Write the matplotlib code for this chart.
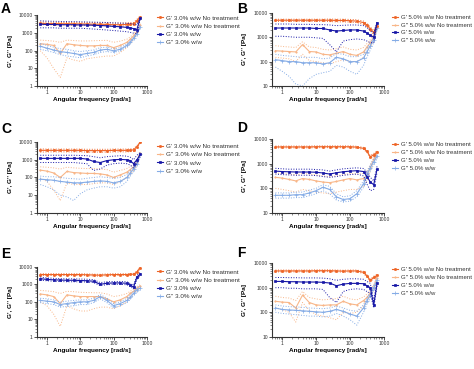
import numpy as np
import matplotlib
matplotlib.use("Agg")
import matplotlib.pyplot as plt
from matplotlib.ticker import LogLocator, FixedLocator, FixedFormatter, NullFormatter

plt.rcParams['font.family'] = ['Liberation Sans', 'DejaVu Sans']

# angular frequency [rad/s]
freq = [0.628, 0.995, 1.58, 2.50, 3.96, 6.28, 9.95, 15.8, 25.0, 39.6,
        62.8, 99.5, 158, 250, 315, 396, 499, 628]

# ---------------- A (3.0 %) ----------------
a_gp_nt = [3600, 3500, 3500, 3400, 3400, 3400, 3300, 3300, 3200, 3200, 3100, 3000, 3000, 3100, 3200, 3400, 5000, 8500]
a_gp_nt_lo = [3000, 3000, 2900, 2900, 2900, 2800, 2800, 2800, 2700, 2700, 2600, 2500, 2500, 2600, 2700, 2900, 4200, 7500]
a_gp_nt_hi = [4300, 4200, 4100, 4000, 4000, 4000, 3900, 3900, 3900, 3800, 3800, 3700, 3700, 3800, 3900, 4000, 6000, 9500]
a_gp_ww = [3200, 3100, 3100, 3000, 3000, 3000, 2900, 2900, 2800, 2700, 2600, 2400, 2300, 2100, 2000, 1800, 1600, 7000]
a_gp_ww_lo = [2000, 2000, 2000, 1900, 1900, 1900, 1900, 1800, 1700, 1600, 1500, 1400, 1300, 1200, 1100, 1000, 900, 6000]
a_gp_ww_hi = [5000, 4800, 4700, 4600, 4500, 4500, 4400, 4300, 4200, 4100, 4000, 3800, 3700, 3600, 3500, 3200, 3000, 8000]
a_gpp_nt = [250, 230, 200, 70, 250, 220, 200, 190, 190, 200, 200, 150, 200, 300, 450, 700, 1200, 3000]
a_gpp_nt_lo = [100, 40, 10, 3, 40, 30, 25, 35, 40, 45, 50, 50, 80, 150, 250, 450, 900, 2500]
a_gpp_nt_hi = [400, 380, 350, 300, 400, 380, 360, 360, 370, 380, 390, 300, 350, 450, 600, 900, 1500, 3500]
a_gpp_ww = [180, 140, 110, 90, 80, 70, 60, 70, 80, 110, 120, 100, 120, 200, 300, 500, 900, 2200]
a_gpp_ww_lo = [120, 100, 80, 60, 50, 45, 40, 50, 60, 80, 90, 80, 100, 170, 250, 420, 800, 1900]
a_gpp_ww_hi = [260, 200, 160, 130, 120, 100, 90, 100, 110, 150, 160, 130, 150, 240, 360, 600, 1050, 2600]

# ---------------- B (5.0 %) ----------------
b_gp_nt = [5000, 5000, 5000, 5000, 5000, 5000, 5000, 5000, 5000, 4900, 4900, 4800, 4600, 4000, 3200, 2200, 1600, 3000]
b_gp_nt_lo = [4500, 4500, 4500, 4500, 4500, 4500, 4500, 4500, 4400, 4300, 4300, 4200, 4000, 3400, 2700, 1800, 1300, 2600]
b_gp_nt_hi = [5500, 5500, 5500, 5500, 5500, 5500, 5500, 5500, 5600, 5500, 5500, 5400, 5200, 4600, 3700, 2600, 1900, 3400]
b_gp_ww = [2400, 2400, 2400, 2400, 2400, 2400, 2300, 2300, 2000, 1800, 1900, 2000, 2000, 1800, 1500, 1200, 1000, 4000]
b_gp_ww_lo = [1100, 1100, 1050, 1000, 1000, 1000, 950, 900, 500, 250, 700, 800, 850, 800, 700, 600, 600, 3500]
b_gp_ww_hi = [3500, 3500, 3500, 3400, 3400, 3400, 3300, 3300, 3200, 3000, 3100, 3200, 3200, 3000, 2500, 1900, 1500, 4500]
b_gpp_nt = [280, 270, 260, 250, 500, 260, 250, 200, 190, 220, 260, 200, 180, 250, 400, 600, 1000, 2800]
b_gpp_nt_lo = [150, 140, 130, 100, 200, 110, 100, 90, 80, 100, 120, 100, 100, 150, 250, 400, 700, 2300]
b_gpp_nt_hi = [450, 420, 400, 380, 650, 400, 380, 320, 300, 340, 400, 320, 300, 380, 550, 800, 1300, 3300]
b_gpp_ww = [120, 110, 100, 100, 90, 90, 90, 80, 90, 150, 130, 100, 100, 140, 250, 450, 800, 2500]
b_gpp_ww_lo = [60, 40, 25, 12, 10, 20, 30, 35, 40, 70, 60, 40, 30, 70, 150, 300, 600, 2000]
b_gpp_ww_hi = [200, 180, 170, 160, 150, 150, 150, 130, 140, 220, 200, 160, 160, 200, 350, 600, 1000, 3000]

# ---------------- C (3.0 %) ----------------
c_gp_nt = [3400, 3400, 3400, 3400, 3400, 3400, 3400, 3300, 3300, 3300, 3300, 3400, 3400, 3400, 3500, 3600, 5500, 9500]
c_gp_nt_lo = [2700, 2800, 2800, 2800, 2800, 2800, 2800, 2700, 2700, 2700, 2700, 2800, 2800, 2800, 2900, 3000, 4700, 8500]
c_gp_nt_hi = [4100, 4000, 4000, 4000, 4000, 4000, 4000, 3900, 3900, 3900, 3900, 4000, 4000, 4000, 4100, 4200, 6300, 10000]
c_gp_ww = [1200, 1200, 1200, 1200, 1200, 1200, 1200, 1100, 800, 700, 900, 1000, 1050, 1000, 900, 600, 1000, 2000]
c_gp_ww_lo = [700, 700, 700, 700, 700, 700, 650, 600, 250, 300, 500, 600, 650, 600, 500, 350, 600, 1500]
c_gp_ww_hi = [1800, 1800, 1800, 1800, 1800, 1800, 1750, 1700, 1500, 1300, 1500, 1600, 1700, 1600, 1400, 1000, 1800, 2600]
c_gpp_nt = [260, 230, 180, 100, 220, 190, 180, 170, 170, 160, 140, 100, 140, 200, 280, 400, 700, 2500]
c_gpp_nt_lo = [90, 60, 20, 5, 50, 40, 40, 40, 45, 50, 50, 40, 60, 100, 150, 250, 500, 2000]
c_gpp_nt_hi = [400, 380, 350, 300, 380, 350, 330, 320, 320, 300, 280, 200, 250, 320, 420, 550, 900, 3000]
c_gpp_ww = [80, 75, 70, 60, 55, 50, 50, 55, 60, 65, 60, 50, 60, 100, 180, 300, 600, 2000]
c_gpp_ww_lo = [40, 30, 20, 10, 8, 5, 12, 20, 25, 30, 30, 25, 30, 60, 120, 220, 450, 1600]
c_gpp_ww_hi = [120, 110, 110, 100, 90, 85, 80, 90, 100, 110, 100, 90, 100, 150, 250, 400, 750, 2400]

# ---------------- D (5.0 %) ----------------
d_gp_nt = [4800, 4800, 4800, 4800, 4800, 4800, 4900, 4900, 4900, 4900, 4900, 4900, 4700, 4200, 3200, 1900, 2300, 3000]
d_gp_nt_lo = [4400, 4400, 4400, 4400, 4400, 4400, 4500, 4500, 4500, 4500, 4500, 4500, 4300, 3800, 2900, 1700, 2000, 2700]
d_gp_nt_hi = [5200, 5200, 5200, 5200, 5200, 5200, 5300, 5300, 5300, 5300, 5300, 5300, 5100, 4600, 3500, 2100, 2600, 3300]
d_gp_ww = [500, 480, 470, 460, 460, 460, 450, 420, 380, 430, 470, 500, 520, 480, 300, 180, 140, 600]
d_gp_ww_lo = [380, 360, 350, 340, 340, 340, 330, 300, 280, 300, 340, 360, 380, 320, 150, 80, 90, 450]
d_gp_ww_hi = [650, 620, 600, 600, 600, 600, 580, 560, 500, 560, 620, 650, 680, 640, 450, 280, 200, 800]
d_gpp_nt = [280, 260, 230, 200, 250, 230, 200, 180, 170, 190, 220, 250, 220, 250, 350, 700, 1500, 3000]
d_gpp_nt_lo = [100, 90, 80, 70, 90, 80, 70, 65, 60, 70, 80, 90, 90, 120, 200, 500, 1200, 2500]
d_gpp_nt_hi = [420, 400, 380, 350, 400, 380, 350, 320, 300, 320, 360, 400, 380, 400, 500, 900, 1800, 3500]
d_gpp_ww = [52, 52, 52, 55, 55, 65, 80, 110, 90, 45, 35, 38, 60, 150, 350, 700, 1200, 2000]
d_gpp_ww_lo = [40, 40, 40, 42, 42, 50, 60, 80, 60, 33, 28, 30, 45, 110, 250, 500, 900, 1600]
d_gpp_ww_hi = [65, 65, 65, 70, 70, 85, 100, 140, 120, 60, 45, 50, 80, 200, 450, 900, 1500, 2500]

# ---------------- E (3.0 %) ----------------
e_gp_nt = [3600, 3600, 3600, 3600, 3600, 3600, 3600, 3500, 3400, 3300, 3500, 3600, 3600, 3600, 3700, 3800, 5000, 9000]
e_gp_nt_lo = [3200, 3200, 3200, 3200, 3200, 3200, 3200, 3100, 3000, 2900, 3100, 3200, 3200, 3200, 3300, 3400, 4400, 8000]
e_gp_nt_hi = [4000, 4000, 4000, 4000, 4000, 4000, 4000, 3900, 3800, 3700, 3900, 4000, 4000, 4000, 4100, 4200, 5600, 10000]
e_gp_ww = [2100, 1900, 1800, 1750, 1700, 1700, 1650, 1600, 1500, 1000, 1150, 1200, 1200, 1150, 900, 700, 2500, 4000]
e_gp_ww_lo = [1700, 1600, 1500, 1450, 1400, 1400, 1400, 1350, 1250, 850, 950, 1000, 1000, 950, 750, 550, 1800, 3300]
e_gp_ww_hi = [2600, 2300, 2200, 2100, 2050, 2050, 2000, 1950, 1850, 1250, 1400, 1450, 1450, 1400, 1100, 900, 3200, 4800]
e_gpp_nt = [280, 250, 200, 80, 250, 220, 200, 200, 200, 200, 150, 100, 130, 200, 300, 400, 600, 800]
e_gpp_nt_lo = [100, 60, 20, 4, 60, 40, 30, 30, 40, 50, 50, 40, 60, 100, 180, 280, 450, 650]
e_gpp_nt_hi = [450, 420, 380, 300, 400, 380, 350, 340, 330, 330, 280, 200, 230, 300, 400, 520, 750, 950]
e_gpp_ww = [120, 110, 100, 70, 80, 90, 100, 100, 120, 200, 120, 60, 80, 120, 180, 300, 500, 600]
e_gpp_ww_lo = [90, 80, 70, 50, 55, 60, 70, 70, 90, 150, 90, 45, 60, 90, 140, 230, 380, 450]
e_gpp_ww_hi = [160, 150, 130, 95, 110, 120, 130, 130, 160, 260, 160, 80, 100, 160, 240, 400, 650, 800]

# ---------------- F (5.0 %) ----------------
f_gp_nt = [4800, 4800, 4800, 4800, 4800, 4800, 4900, 4900, 4900, 4800, 4700, 4800, 4800, 4200, 3000, 2000, 2600, 3200]
f_gp_nt_lo = [4400, 4400, 4400, 4400, 4400, 4400, 4500, 4500, 4500, 4400, 4300, 4400, 4400, 3800, 2700, 1800, 2300, 2900]
f_gp_nt_hi = [5200, 5200, 5200, 5200, 5200, 5200, 5300, 5300, 5300, 5200, 5100, 5200, 5200, 4600, 3300, 2200, 2900, 3500]
f_gp_ww = [1800, 1800, 1750, 1750, 1700, 1700, 1700, 1650, 1550, 1200, 1400, 1500, 1500, 1450, 1200, 1000, 200, 1500]
f_gp_ww_lo = [1000, 1000, 950, 950, 900, 900, 900, 850, 400, 250, 700, 850, 900, 850, 700, 600, 150, 1200]
f_gp_ww_hi = [2600, 2600, 2550, 2550, 2500, 2500, 2500, 2450, 2300, 2000, 2200, 2300, 2300, 2200, 1800, 1500, 300, 1900]
f_gpp_nt = [280, 260, 250, 150, 500, 250, 200, 190, 200, 200, 280, 220, 200, 300, 400, 600, 1000, 2500]
f_gpp_nt_lo = [150, 130, 100, 40, 250, 120, 80, 70, 60, 50, 100, 90, 100, 180, 280, 450, 800, 2100]
f_gpp_nt_hi = [450, 400, 380, 300, 700, 400, 350, 320, 340, 360, 450, 350, 320, 420, 550, 800, 1300, 3000]
f_gpp_ww = [150, 130, 125, 120, 115, 110, 105, 100, 110, 130, 110, 85, 70, 150, 300, 500, 1000, 2000]
f_gpp_ww_lo = [100, 90, 85, 80, 75, 70, 70, 65, 70, 90, 70, 50, 30, 100, 220, 380, 800, 1700]
f_gpp_ww_hi = [200, 180, 170, 165, 160, 150, 145, 140, 150, 180, 150, 120, 110, 200, 380, 650, 1250, 2400]

# colours / markers for: G' NT, G'' NT, G' w/w, G'' w/w
colors = ['#EE6426', '#F8B688', '#1616A6', '#85ACE6']
markers = ['o', 'o', 's', '+']
msizes = [1.6, 1.0, 1.6, 2.2]

panels = [
    ('A', '3.0%', (1, 10000), [(a_gp_nt, a_gp_nt_lo, a_gp_nt_hi), (a_gpp_nt, a_gpp_nt_lo, a_gpp_nt_hi),
                               (a_gp_ww, a_gp_ww_lo, a_gp_ww_hi), (a_gpp_ww, a_gpp_ww_lo, a_gpp_ww_hi)],
     [0.078, 0.767, 0.232, 0.191], 1.07, 1.04, 0.976),
    ('B', '5.0%', (10, 10000), [(b_gp_nt, b_gp_nt_lo, b_gp_nt_hi), (b_gpp_nt, b_gpp_nt_lo, b_gpp_nt_hi),
                                (b_gp_ww, b_gp_ww_lo, b_gp_ww_hi), (b_gpp_ww, b_gpp_ww_lo, b_gpp_ww_hi)],
     [0.574, 0.767, 0.236, 0.198], 1.05, 1.01, 0.976),
    ('C', '3.0%', (1, 10000), [(c_gp_nt, c_gp_nt_lo, c_gp_nt_hi), (c_gpp_nt, c_gpp_nt_lo, c_gpp_nt_hi),
                               (c_gp_ww, c_gp_ww_lo, c_gp_ww_hi), (c_gpp_ww, c_gpp_ww_lo, c_gpp_ww_hi)],
     [0.078, 0.423, 0.232, 0.192], 1.07, 1.01, 0.650),
    ('D', '5.0%', (10, 10000), [(d_gp_nt, d_gp_nt_lo, d_gp_nt_hi), (d_gpp_nt, d_gpp_nt_lo, d_gpp_nt_hi),
                                (d_gp_ww, d_gp_ww_lo, d_gp_ww_hi), (d_gpp_ww, d_gpp_ww_lo, d_gpp_ww_hi)],
     [0.574, 0.423, 0.236, 0.200], 1.05, 0.99, 0.653),
    ('E', '3.0%', (1, 10000), [(e_gp_nt, e_gp_nt_lo, e_gp_nt_hi), (e_gpp_nt, e_gpp_nt_lo, e_gpp_nt_hi),
                               (e_gp_ww, e_gp_ww_lo, e_gp_ww_hi), (e_gpp_ww, e_gpp_ww_lo, e_gpp_ww_hi)],
     [0.078, 0.087, 0.232, 0.190], 1.07, 1.0, 0.312),
    ('F', '5.0%', (10, 10000), [(f_gp_nt, f_gp_nt_lo, f_gp_nt_hi), (f_gpp_nt, f_gpp_nt_lo, f_gpp_nt_hi),
                                (f_gp_ww, f_gp_ww_lo, f_gp_ww_hi), (f_gpp_ww, f_gpp_ww_lo, f_gpp_ww_hi)],
     [0.574, 0.087, 0.236, 0.200], 1.05, 0.98, 0.315),
]

fig = plt.figure(figsize=(4.74, 3.69), dpi=100)

for letter, conc, ylim, series, rect, lgx, lgy, lety in panels:
    ax = fig.add_axes(rect)
    labels = ["G' %s w/w No treatment" % conc, "G'' %s w/w No treatment" % conc,
              "G' %s w/w" % conc, "G'' %s w/w" % conc]
    # light ones first, dark ones on top
    handles = {}
    for i in [1, 3, 0, 2]:
        mean, lo, hi = series[i]
        ax.plot(freq, lo, ls=':', lw=0.7, color=colors[i])
        ax.plot(freq, hi, ls=':', lw=0.7, color=colors[i])
        h, = ax.plot(freq, mean, ls='-', lw=0.8, color=colors[i], marker=markers[i],
                     ms=msizes[i], mew=0.5, label=labels[i])
        handles[i] = h
    ax.set_xscale('log')
    ax.set_yscale('log')
    ax.set_xlim(0.5, 1000)
    ax.set_ylim(*ylim)

    yt = [t for t in [1, 10, 100, 1000, 10000] if ylim[0] <= t <= ylim[1]]
    ax.yaxis.set_major_locator(FixedLocator(yt))
    ax.yaxis.set_major_formatter(FixedFormatter([str(t) for t in yt]))
    ax.yaxis.set_minor_locator(LogLocator(base=10, subs=np.arange(2, 10)))
    ax.yaxis.set_minor_formatter(NullFormatter())
    ax.xaxis.set_major_locator(FixedLocator([1, 10, 100, 1000]))
    ax.xaxis.set_major_formatter(FixedFormatter(['1', '10', '100', '1000']))
    ax.xaxis.set_minor_locator(LogLocator(base=10, subs=np.arange(2, 10)))
    ax.xaxis.set_minor_formatter(NullFormatter())

    for s in ['top', 'right']:
        ax.spines[s].set_visible(False)
    for s in ['left', 'bottom']:
        ax.spines[s].set_color('#333333')
        ax.spines[s].set_linewidth(0.8)
    ax.tick_params(which='major', length=2, width=0.6, labelsize=3.6, pad=1, colors='#333333')
    ax.tick_params(which='minor', length=1.2, width=0.4, colors='#333333')

    ax.set_xlabel('Angular frequency [rad/s]', fontsize=4.6, fontweight='bold', labelpad=1.5)
    ax.set_ylabel("G', G'' [Pa]", fontsize=4.6, fontweight='bold')
    ax.yaxis.set_label_coords(-0.22, 0.5)

    ax.legend([handles[i] for i in range(4)], labels, loc='upper left',
              bbox_to_anchor=(lgx, lgy), frameon=False,
              fontsize=4.5 if letter in 'ACE' else 4.3,
              handlelength=1.0, handletextpad=0.45, borderaxespad=0, labelspacing=0.45,
              labelcolor='#333333')

    fig.text(0.002 if letter in 'ACE' else 0.5, lety, letter,
             fontsize=10, fontweight='bold', ha='left', va='center')

fig.savefig('out.png', dpi=100)
